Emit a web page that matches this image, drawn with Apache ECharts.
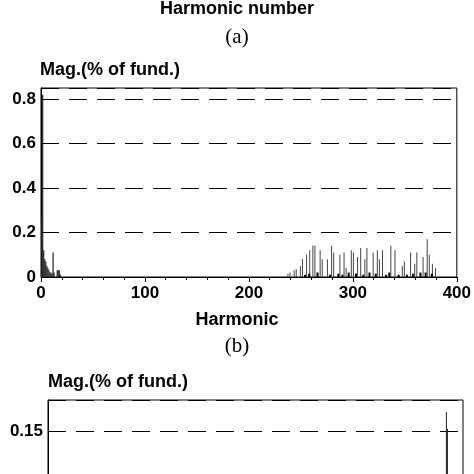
<!DOCTYPE html><html><head><meta charset="utf-8"><script src="https://cdn.jsdelivr.net/npm/echarts@6/dist/echarts.min.js"></script></head><body style="margin:0;overflow:hidden"><div id="c" style="width:474px;height:620px"></div><script>
const lowH=[1,2,3,4,5,6,7,8,9,10,11,12,13,16,17,18,19];
const lowV=[0.27,0.82,0.12,0.08,0.07,0.05,0.04,0.03,0.02,0.02,0.015,0.11,0.02,0.03,0.03,0.03,0.01];
const highH=[238,240,244,246,250,252,256,259,262,264,269,271,276,280,282,288,292,294,299,301,305,308,312,314,320,324,326,329,337,341,348,350,356,360,362,368,372,374,377,380];
const highV=[0.015,0.02,0.03,0.035,0.05,0.08,0.1,0.12,0.14,0.14,0.12,0.08,0.08,0.14,0.11,0.1,0.11,0.04,0.12,0.11,0.09,0.13,0.08,0.13,0.11,0.12,0.08,0.12,0.14,0.12,0.05,0.07,0.11,0.06,0.11,0.09,0.17,0.1,0.06,0.04];
const smallH=[254,258,266,278,286,290,296,303,310,316,322,332,335,344,352,358,365,370,376];
const smallV=[0.01,0.015,0.02,0.01,0.015,0.01,0.02,0.015,0.01,0.02,0.015,0.01,0.02,0.01,0.01,0.015,0.02,0.02,0.015];
const bH=[384,385];
const bV=[0.166,0.152];
const yTicksA=[0,0.2,0.4,0.6,0.8];
const pair=(h,v)=>h.map((x,i)=>[x,v[i]]);
const F='Liberation Sans';
const ax={fontFamily:F,fontWeight:'bold',fontSize:17,color:'#000'};
const dash={show:true,lineStyle:{color:'#000',type:[18,10],width:1}};
const c=echarts.init(document.getElementById('c'));
c.setOption({animation:false,
graphic:[
{type:'text',left:'center',top:0,style:{text:'Harmonic number',font:'bold 18px Liberation Sans',fill:'#000'}},
{type:'text',left:'center',top:27,style:{text:'(a)',font:'21px Liberation Serif',fill:'#000'}},
{type:'text',left:40,top:61,style:{text:'Mag.(% of fund.)',font:'bold 18px Liberation Sans',fill:'#000'}},
{type:'text',left:'center',top:311,style:{text:'Harmonic',font:'bold 18px Liberation Sans',fill:'#000'}},
{type:'text',left:'center',top:336,style:{text:'(b)',font:'21px Liberation Serif',fill:'#000'}},
{type:'text',left:48,top:373,style:{text:'Mag.(% of fund.)',font:'bold 18px Liberation Sans',fill:'#000'}}],
grid:[{left:41,right:16,top:88,bottom:343,show:true,borderColor:'#000',borderWidth:1},
{left:48,right:11,top:400,bottom:9,show:true,borderColor:'#000',borderWidth:1}],
xAxis:[{gridIndex:0,type:'value',min:0,max:400,interval:100,axisLine:{lineStyle:{color:'#000'}},axisTick:{length:5,lineStyle:{color:'#000'}},minorTick:{show:true,splitNumber:5,length:3,lineStyle:{color:'#000'}},axisLabel:Object.assign({margin:8},ax),splitLine:{show:false}},
{gridIndex:1,type:'value',min:0,max:400,interval:100,axisLabel:{show:false},splitLine:{show:false}}],
yAxis:[{gridIndex:0,type:'value',min:0,max:0.85,interval:0.2,axisLine:{show:true,lineStyle:{color:'#000'}},axisTick:{show:false},axisLabel:Object.assign({margin:5,showMaxLabel:false,formatter:v=>yTicksA.includes(+v.toFixed(2))?String(+v.toFixed(2)):''},ax),splitLine:dash},
{gridIndex:1,type:'value',min:0,max:0.176,interval:0.05,axisLine:{show:true,lineStyle:{color:'#000'}},axisTick:{show:false},axisLabel:Object.assign({margin:5,showMaxLabel:false,formatter:v=>v.toFixed(2)},ax),splitLine:dash}],
series:[
{type:'bar',xAxisIndex:0,yAxisIndex:0,barWidth:1.2,barGap:'-100%',itemStyle:{color:'#222'},data:pair(lowH,lowV)},
{type:'bar',xAxisIndex:0,yAxisIndex:0,barWidth:1,barGap:'-100%',itemStyle:{color:'#444'},data:pair(highH,highV)},
{type:'bar',xAxisIndex:0,yAxisIndex:0,barWidth:2,barGap:'-100%',itemStyle:{color:'#000'},data:pair(smallH,smallV)},
{type:'bar',xAxisIndex:1,yAxisIndex:1,barWidth:1,itemStyle:{color:'#222'},data:pair(bH,bV)}]});
</script></body></html>
